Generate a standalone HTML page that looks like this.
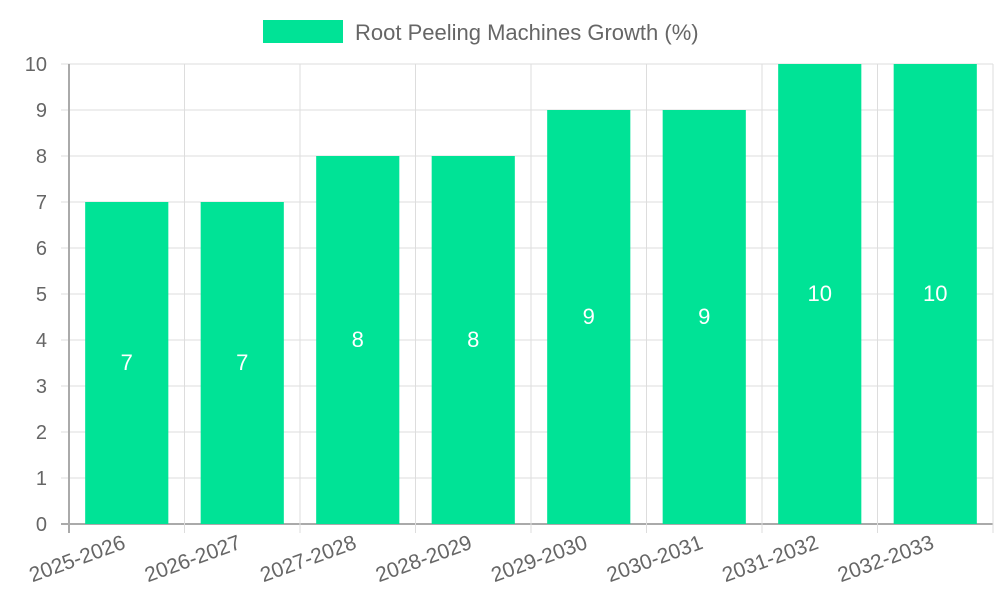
<!DOCTYPE html>
<html><head><meta charset="utf-8"><style>
html,body{margin:0;padding:0;background:#fff;width:1000px;height:600px;overflow:hidden}
svg{font-family:"Liberation Sans",sans-serif}
</style></head><body>
<svg id="chart" width="1000" height="600" xmlns="http://www.w3.org/2000/svg">
<g>
<rect x="263" y="20" width="80" height="23" fill="#00e396"/>
<text x="355" y="40" font-size="22" fill="#666">Root Peeling Machines Growth (%)</text>
</g>
<g id="grid"></g><g id="bars"></g><g id="axes"></g>
</svg>
<script>
const categories=["2025-2026","2026-2027","2027-2028","2028-2029","2029-2030","2030-2031","2031-2032","2032-2033"];
const values=[7,7,8,8,9,9,10,10];
const yTicks=[0,1,2,3,4,5,6,7,8,9,10];
const NS="http://www.w3.org/2000/svg";
const L=69,R=993,T=64,B=524,yMax=10;
const band=(R-L)/categories.length;
const y=v=>B-(v/yMax)*(B-T);
const xc=i=>L+band*(i+0.5);
function mk(tag,attrs,parent,txt){const e=document.createElementNS(NS,tag);for(const k in attrs)e.setAttribute(k,attrs[k]);if(txt!==undefined)e.textContent=txt;parent.appendChild(e);return e;}
const grid=document.getElementById('grid'),bars=document.getElementById('bars'),axes=document.getElementById('axes');
yTicks.forEach(t=>{
 const g=mk('line',{x1:L-8,x2:R,y1:y(t),y2:y(t),stroke:t===0?'#aaa':'#ddd','stroke-width':t===0?2:1},grid);
 
 
 const lb=mk('text',{x:47,y:y(t)+7,'text-anchor':'end','font-size':20,fill:'#666'},axes,String(t));
 
 
});
for(let i=0;i<=categories.length;i++){
 const x=L+band*i;
 const g=mk('line',{x1:x,x2:x,y1:T,y2:B+9,stroke:i===0?'#aaa':'#ddd','stroke-width':i===0?2:1},grid);
 
 
}
const bw=band*0.72;
categories.forEach((c,i)=>{
 const r=mk('rect',{x:xc(i)-bw/2,y:y(values[i]),width:bw,height:B-y(values[i]),fill:'#00e396'},bars);
 
 
 const v=mk('text',{x:xc(i),y:(y(values[i])+B)/2+7,'text-anchor':'middle','font-size':22,fill:'#fff'},bars,String(values[i]));
 
 
 const tx=xc(i),ty=548;
 const l=mk('text',{x:tx,y:ty,'text-anchor':'end','font-size':21,fill:'#666',transform:`rotate(-20 ${tx} ${ty})`},axes,c);
 
 
});
</script>
</body></html>
